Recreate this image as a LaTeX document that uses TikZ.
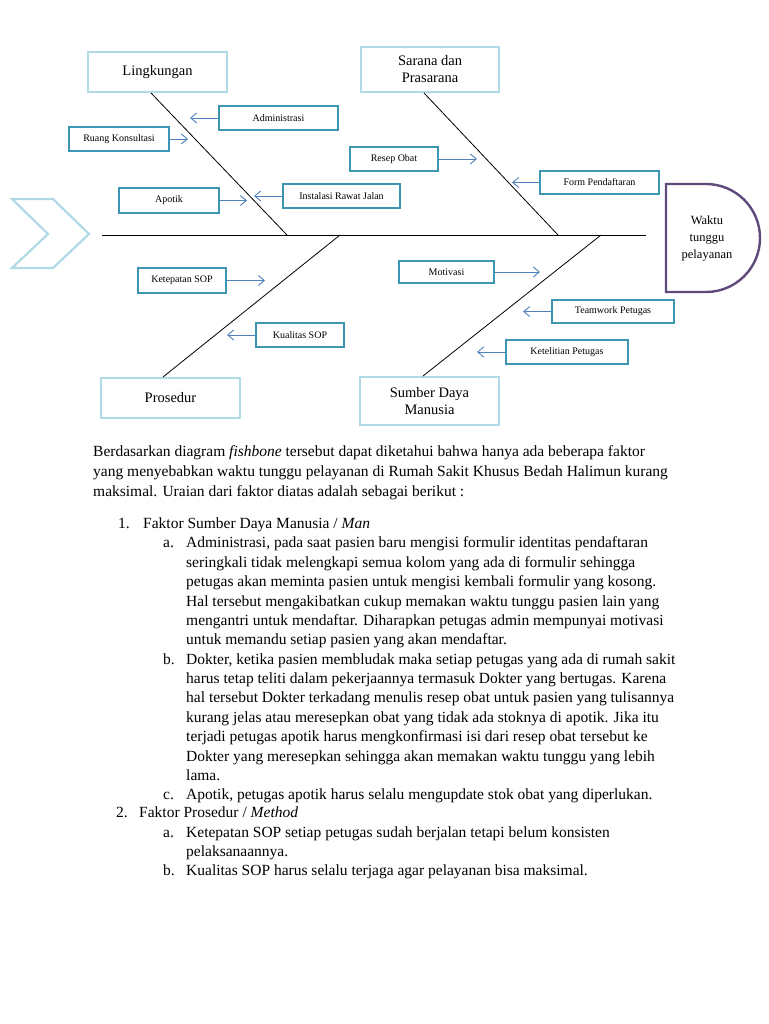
\documentclass[tikz,border=0pt]{standalone}
\usepackage{fontspec}
\setmainfont{Liberation Serif}
\usetikzlibrary{arrows.meta}
\definecolor{bigc}{RGB}{176,218,230}
\definecolor{smallc}{RGB}{60,150,180}
\definecolor{arrc}{RGB}{79,129,189}
\definecolor{purp}{RGB}{96,74,123}
\tikzset{
  bigbox/.style={draw=bigc, line width=2pt, inner sep=0pt, align=center, font=\fontsize{14.5}{17}\selectfont},
  smallbox/.style={draw=smallc, line width=2pt, inner sep=0pt, align=center, font=\fontsize{10}{12}\selectfont},
  arr/.style={draw=arrc, line width=0.9pt, -{Straight Barb[length=6pt,width=10pt]}},
  bone/.style={draw=black, line width=0.8pt},
  body/.style={anchor=base west, inner sep=0pt, font=\fontsize{15.5}{18}\selectfont},
}
\begin{document}
\begin{tikzpicture}[x=1pt,y=-1pt]
\useasboundingbox[fill=white] (0,0) rectangle (768,1024);
% chevron
\draw[bigc, line width=2.2pt, line join=miter] (12,199) -- (53,199) -- (89,234) -- (53,268) -- (12,268) -- (48,234) -- cycle;
% effect shape
\draw[purp, line width=2.4pt] (706,184) -- (666,184) -- (666,292) -- (706,292) arc[start angle=90, end angle=-90, radius=54];
\node[align=center, font=\fontsize{12.5}{17}\selectfont] (eff) at (707,239) {Waktu\\tunggu\\pelayanan};
% category boxes
\node[bigbox, minimum width=139pt, minimum height=40pt] (ling) at (157.5,72) {Lingkungan};
\node[bigbox, minimum width=138pt, minimum height=45pt] (sar) at (430,69.5) {Sarana dan\\Prasarana};
\node[bigbox, minimum width=139pt, minimum height=40pt] (pro) at (170.5,398) {Prosedur};
\node[bigbox, minimum width=139pt, minimum height=48pt] (sdm) at (429.5,401) {Sumber Daya\\Manusia};
% spine
\coordinate (spL) at (102,235);
\coordinate (spR) at (646,235);
\draw[bone] (spL) -- (spR);
\coordinate (s1) at (287,235);
\coordinate (s2) at (558,235);
\coordinate (s3) at (340,235);
\coordinate (s4) at (601,235);
\draw[bone] ([xshift=-6.5pt]ling.south) -- (s1);
\draw[bone] ([xshift=-6pt]sar.south) -- (s2);
\draw[bone] ([xshift=-7.5pt]pro.north) -- (s3);
\draw[bone] ([xshift=-6.5pt]sdm.north) -- (s4);
% cause boxes
\node[smallbox, minimum width=119pt, minimum height=24pt] (adm) at (278.5,118) {Administrasi};
\node[smallbox, minimum width=100pt, minimum height=24pt] (rk) at (119,139) {Ruang Konsultasi};
\node[smallbox, minimum width=100pt, minimum height=25pt] (apo) at (169,200.5) {Apotik};
\node[smallbox, minimum width=117pt, minimum height=24pt] (irj) at (341.5,196) {Instalasi Rawat Jalan};
\node[smallbox, minimum width=88pt, minimum height=24pt] (ro) at (394,159) {Resep Obat};
\node[smallbox, minimum width=119pt, minimum height=23pt] (fp) at (599.5,182.5) {Form Pendaftaran};
\node[smallbox, minimum width=88pt, minimum height=25pt] (kep) at (182,280.5) {Ketepatan SOP};
\node[smallbox, minimum width=88pt, minimum height=24pt] (kua) at (300,335) {Kualitas SOP};
\node[smallbox, minimum width=95pt, minimum height=22pt] (mot) at (446.5,272) {Motivasi};
\node[smallbox, minimum width=122pt, minimum height=23pt] (tw) at (613,311.5) {Teamwork Petugas};
\node[smallbox, minimum width=122pt, minimum height=24pt] (ket) at (567,352) {Ketelitian Petugas};
% arrow tips
\coordinate (admT) at (190,118);
\coordinate (rkT) at (188,139);
\coordinate (apoT) at (247,200.5);
\coordinate (irjT) at (254,196);
\coordinate (roT) at (477,159);
\coordinate (fpT) at (512,182.5);
\coordinate (kepT) at (265,280.5);
\coordinate (kuaT) at (227,335);
\coordinate (motT) at (540,272);
\coordinate (twT) at (523,311.5);
\coordinate (ketT) at (477,352);
\draw[arr] (adm) -- (admT);
\draw[arr] (rk) -- (rkT);
\draw[arr] (apo) -- (apoT);
\draw[arr] (irj) -- (irjT);
\draw[arr] (ro) -- (roT);
\draw[arr] (fp) -- (fpT);
\draw[arr] (kep) -- (kepT);
\draw[arr] (kua) -- (kuaT);
\draw[arr] (mot) -- (motT);
\draw[arr] (tw) -- (twT);
\draw[arr] (ket) -- (ketT);
% body text
\node[body] (t1) at (93,456) {Berdasarkan diagram \textit{fishbone} tersebut dapat diketahui bahwa hanya ada beberapa faktor};
\node[body] (t2) at (93,476) {yang menyebabkan waktu tunggu pelayanan di Rumah Sakit Khusus Bedah Halimun kurang};
\node[body] (t3) at (93,496) {maksimal. Uraian dari faktor diatas adalah sebagai berikut :};
\node[body] (n4) at (118,528) {1.};
\node[body] (t4) at (143,528) {Faktor Sumber Daya Manusia / \textit{Man}};
\node[body] (n5) at (163,547) {a.};
\node[body] (t5) at (186,547) {Administrasi, pada saat pasien baru mengisi formulir identitas pendaftaran};
\node[body] (t6) at (186,567) {seringkali tidak melengkapi semua kolom yang ada di formulir sehingga};
\node[body] (t7) at (186,586) {petugas akan meminta pasien untuk mengisi kembali formulir yang kosong.};
\node[body] (t8) at (186,606) {Hal tersebut mengakibatkan cukup memakan waktu tunggu pasien lain yang};
\node[body] (t9) at (186,625) {mengantri untuk mendaftar. Diharapkan petugas admin mempunyai motivasi};
\node[body] (t10) at (186,644) {untuk memandu setiap pasien yang akan mendaftar.};
\node[body] (n11) at (163,664) {b.};
\node[body] (t11) at (186,664) {Dokter, ketika pasien membludak maka setiap petugas yang ada di rumah sakit};
\node[body] (t12) at (186,683) {harus tetap teliti dalam pekerjaannya termasuk Dokter yang bertugas. Karena};
\node[body] (t13) at (186,702) {hal tersebut Dokter terkadang menulis resep obat untuk pasien yang tulisannya};
\node[body] (t14) at (186,722) {kurang jelas atau meresepkan obat yang tidak ada stoknya di apotik. Jika itu};
\node[body] (t15) at (186,741) {terjadi petugas apotik harus mengkonfirmasi isi dari resep obat tersebut ke};
\node[body] (t16) at (186,761) {Dokter yang meresepkan sehingga akan memakan waktu tunggu yang lebih};
\node[body] (t17) at (186,780) {lama.};
\node[body] (n18) at (163,799) {c.};
\node[body] (t18) at (186,799) {Apotik, petugas apotik harus selalu mengupdate stok obat yang diperlukan.};
\node[body] (n19) at (116,817) {2.};
\node[body] (t19) at (139,817) {Faktor Prosedur / \textit{Method}};
\node[body] (n20) at (163,837) {a.};
\node[body] (t20) at (186,837) {Ketepatan SOP setiap petugas sudah berjalan tetapi belum konsisten};
\node[body] (t21) at (186,856) {pelaksanaannya.};
\node[body] (n22) at (163,875) {b.};
\node[body] (t22) at (186,875) {Kualitas SOP harus selalu terjaga agar pelayanan bisa maksimal.};
\end{tikzpicture}
\end{document}
